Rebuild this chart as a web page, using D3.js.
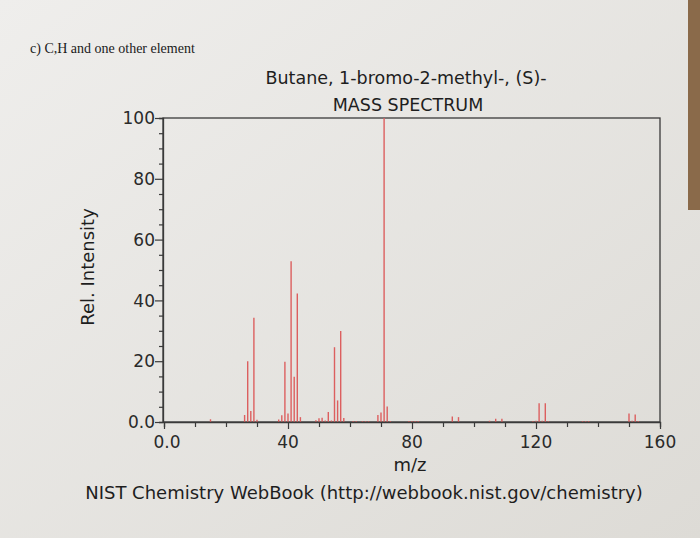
<!DOCTYPE html>
<html><head><meta charset="utf-8">
<script src="https://cdn.jsdelivr.net/npm/d3@7"></script>
<style>body{margin:0;background:#e8e7e4;} svg{display:block;}</style>
</head><body>
<script>
const mz = [15, 26,27,28,29,30, 37,38,39,40,41,42,43,44, 49,50,51,52,53,54,55,56,57,58,
  61,62,64,65,66, 69,70,71,72,73, 79,80,81,82, 93,95, 105,107,109,
  119,120,121,122,123,124, 135,136,137, 150,151,152,153];
const intensity = [0.9, 2.3,20.0,3.6,34.3,0.7, 0.8,2.2,19.8,2.8,52.9,14.9,42.3,1.6,
  0.6,1.2,1.4,0.5,3.3,0.5,24.6,7.1,29.9,1.3,
  0.3,0.3,0.3,0.3,0.3, 2.3,3.1,100,5.1,0.3, 0.3,0.3,0.3,0.3, 1.8,1.6, 0.4,1.1,1.1,
  0.3,0.4,6.2,0.4,6.2,0.3, 0.3,0.3,0.3, 2.8,0.4,2.5,0.3];
const xTicks = [0,40,80,120,160];
const xTickLabels = ["0.0","40","80","120","160"];
const yTicks = [0,20,40,60,80,100];
const yTickLabels = ["0.0","20","40","60","80","100"];
const topNote = "c) C,H and one other element";
const title1 = "Butane, 1-bromo-2-methyl-, (S)-";
const title2 = "MASS SPECTRUM";
const xTitle = "m/z";
const yTitle = "Rel. Intensity";
const credit = "NIST Chemistry WebBook (http://webbook.nist.gov/chemistry)";

const W = 700, H = 538;
const svg = d3.select("body").append("svg").attr("width", W).attr("height", H);
const bg = svg.append("defs").append("linearGradient").attr("id","paper")
  .attr("x1","0").attr("y1","0").attr("x2","1").attr("y2","1");
bg.append("stop").attr("offset","0").attr("stop-color","#efeeec");
bg.append("stop").attr("offset","1").attr("stop-color","#dddbd6");
svg.append("rect").attr("width",W).attr("height",H).attr("fill","url(#paper)");
svg.append("rect").attr("x",688).attr("y",0).attr("width",12).attr("height",210).attr("fill","#8a6a4a");

const L = 164, R = 660, T = 118, B = 422;
const x = d3.scaleLinear().domain([0,160]).range([L,R]);
const y = d3.scaleLinear().domain([0,100]).range([B,T]);
const axisColor = "#3a3a3a";
const font = "'DejaVu Sans', sans-serif";

// frame
svg.append("rect").attr("x",L-1).attr("y",T).attr("width",R-L+1).attr("height",B-T)
  .attr("fill","none").attr("stroke",axisColor).attr("stroke-width",1.3);

// bars
svg.append("g").selectAll("line").data(mz).join("line")
  .attr("x1",d=>x(d)).attr("x2",d=>x(d))
  .attr("y1",y(0)).attr("y2",(d,i)=>y(intensity[i]))
  .attr("stroke","#dc5f5f").attr("stroke-width",1.4);

// x axis
const xa = svg.append("g").attr("transform",`translate(0,${B})`)
  .call(d3.axisBottom(x).tickValues(d3.range(0,161,10)).tickSize(5).tickFormat(""));
xa.select(".domain").attr("stroke",axisColor).attr("stroke-width",1.3);
xa.selectAll(".tick line").attr("stroke",axisColor).attr("stroke-width",1.2)
  .attr("y2",d=>xTicks.includes(d)?7:5);
svg.append("g").selectAll("text").data(xTicks).join("text")
  .attr("x",d=>x(d)+(d===0?3:0)).attr("y",B+26).attr("text-anchor","middle")
  .attr("font-family",font).attr("font-size",17).attr("fill","#2a2a2a")
  .text((d,i)=>xTickLabels[i]);

// y axis
const ya = svg.append("g").attr("transform",`translate(${L-1},0)`)
  .call(d3.axisLeft(y).tickValues(d3.range(0,101,5)).tickSize(4).tickFormat(""));
ya.select(".domain").attr("stroke",axisColor).attr("stroke-width",1.3);
ya.selectAll(".tick line").attr("stroke",axisColor).attr("stroke-width",1.2)
  .attr("x2",d=>yTicks.includes(d)?-8:-4);
svg.append("g").selectAll("text").data(yTicks).join("text")
  .attr("x",L-9).attr("y",d=>y(d)).attr("dy","0.36em").attr("text-anchor","end")
  .attr("font-family",font).attr("font-size",17).attr("fill","#2a2a2a")
  .text((d,i)=>yTickLabels[i]);

// texts
svg.append("text").attr("x",30).attr("y",53).attr("font-family","'Liberation Serif', serif")
  .attr("font-size",14).attr("fill","#1a1a1a").text(topNote);
svg.append("text").attr("x",406).attr("y",84).attr("text-anchor","middle")
  .attr("font-family",font).attr("font-size",17.5).attr("fill","#1e1e1e").text(title1);
svg.append("text").attr("x",408).attr("y",111).attr("text-anchor","middle")
  .attr("font-family",font).attr("font-size",17.5).attr("fill","#1e1e1e").text(title2);
svg.append("text").attr("x",410).attr("y",471).attr("text-anchor","middle")
  .attr("font-family",font).attr("font-size",18).attr("fill","#1e1e1e").text(xTitle);
svg.append("text").attr("transform","translate(94,267) rotate(-90)").attr("text-anchor","middle")
  .attr("font-family",font).attr("font-size",18).attr("fill","#1e1e1e").text(yTitle);
svg.append("text").attr("x",364).attr("y",499).attr("text-anchor","middle")
  .attr("font-family",font).attr("font-size",18).attr("fill","#1e1e1e").text(credit);
</script>
</body></html>
